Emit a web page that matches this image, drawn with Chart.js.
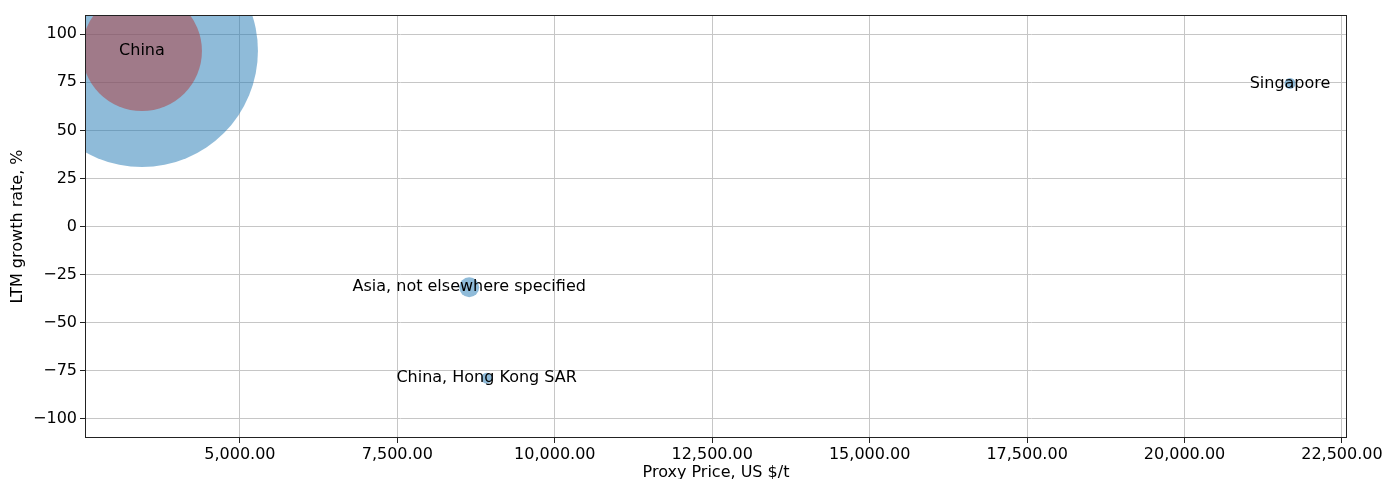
<!DOCTYPE html>
<html lang="en">
<head>
    <meta charset="utf-8">
    <title>Proxy price vs LTM growth</title>
    <style>
        html, body { margin: 0; padding: 0; background: #fff; overflow: hidden; }
        canvas { display: block; }
    </style>
</head>
<body>
    <canvas id="myChart" width="1386" height="479"></canvas>

    <script src="https://cdn.jsdelivr.net/npm/chart.js"></script>
    <script>
    // data
    const countries = ['China', 'Singapore', 'Asia, not elsewhere specified', 'China, Hong Kong SAR'];
    const proxyPrice = [3444, 21675, 8641, 8918];
    const growthRate = [91.3, 74.4, -31.6, -78.9];
    const bubbleRadius = [116, 5.5, 10, 5.5];

    // the highlighted country drawn on top
    const highlightIndex = 0;
    const highlightRadius = 60;

    const xTicks = [5000, 7500, 10000, 12500, 15000, 17500, 20000, 22500];
    const yTicks = [-100, -75, -50, -25, 0, 25, 50, 75, 100];

    const font = 'DejaVu Sans';
    const gridColor = '#c6c6c6';

    const points = countries.map(function(c, i) {
        return { x: proxyPrice[i], y: growthRate[i], r: bubbleRadius[i], label: c };
    });

    const labelPlugin = {
        id: 'labels',
        afterDatasetsDraw(chart) {
            const ctx = chart.ctx;
            const xs = chart.scales.x, ys = chart.scales.y;
            const a = chart.chartArea;
            ctx.save();
            ctx.font = '16px "' + font + '"';
            ctx.fillStyle = '#000';
            ctx.textAlign = 'center';
            ctx.textBaseline = 'middle';
            points.forEach(function(p) {
                ctx.fillText(p.label, xs.getPixelForValue(p.x), ys.getPixelForValue(p.y));
            });
            // frame round the axes
            ctx.strokeStyle = '#222';
            ctx.lineWidth = 1;
            ctx.strokeRect(a.left + 0.5, a.top + 0.5, a.right - a.left - 1, a.bottom - a.top - 1);
            ctx.restore();
        }
    };

    const myChart = new Chart(document.getElementById('myChart').getContext('2d'), {
        type: 'bubble',
        data: {
            datasets: [{
                label: 'Countries',
                data: points,
                order: 2,
                backgroundColor: 'rgba(31, 119, 180, 0.5)',
                borderWidth: 0,
                hoverBorderWidth: 0
            }, {
                label: 'Highlight',
                data: [{ x: proxyPrice[highlightIndex], y: growthRate[highlightIndex], r: highlightRadius }],
                order: 1,
                backgroundColor: 'rgba(177, 58, 58, 0.5)',
                borderWidth: 0,
                hoverBorderWidth: 0
            }]
        },
        options: {
            responsive: false,
            devicePixelRatio: 1,
            animation: false,
            layout: { autoPadding: false, padding: { top: 15, right: 39, left: 0, bottom: 0 } },
            plugins: {
                legend: { display: false },
                tooltip: { enabled: false }
            },
            scales: {
                x: {
                    type: 'linear',
                    min: 2540,
                    max: 22580,
                    afterFit: function(s) { s.height = 41; },
                    afterBuildTicks: function(s) { s.ticks = xTicks.map(function(v) { return { value: v }; }); },
                    grid: { color: gridColor, tickColor: '#222', tickLength: 5 },
                    border: { display: false },
                    ticks: {
                        padding: 2,
                        color: '#000',
                        font: { family: font, size: 16 },
                        maxRotation: 0,
                        callback: function(v) {
                            return v.toLocaleString('en-US', { minimumFractionDigits: 2, maximumFractionDigits: 2 });
                        }
                    },
                    title: {
                        display: true,
                        text: 'Proxy Price, US $/t',
                        color: '#000',
                        font: { family: font, size: 16 },
                        padding: { top: 0, bottom: -3 }
                    }
                },
                y: {
                    type: 'linear',
                    min: -110,
                    max: 110,
                    afterFit: function(s) { s.width = 85; },
                    afterBuildTicks: function(s) { s.ticks = yTicks.map(function(v) { return { value: v }; }); },
                    grid: { color: gridColor, tickColor: '#222', tickLength: 5 },
                    border: { display: false },
                    ticks: {
                        padding: 3,
                        color: '#000',
                        font: { family: font, size: 16 },
                        callback: function(v) { return v < 0 ? '\u2212' + Math.abs(v) : String(v); }
                    },
                    title: {
                        display: true,
                        text: 'LTM growth rate, %',
                        color: '#000',
                        font: { family: font, size: 16 },
                        padding: { top: 8, bottom: 0 }
                    }
                }
            }
        },
        plugins: [labelPlugin]
    });
    </script>
</body>
</html>
